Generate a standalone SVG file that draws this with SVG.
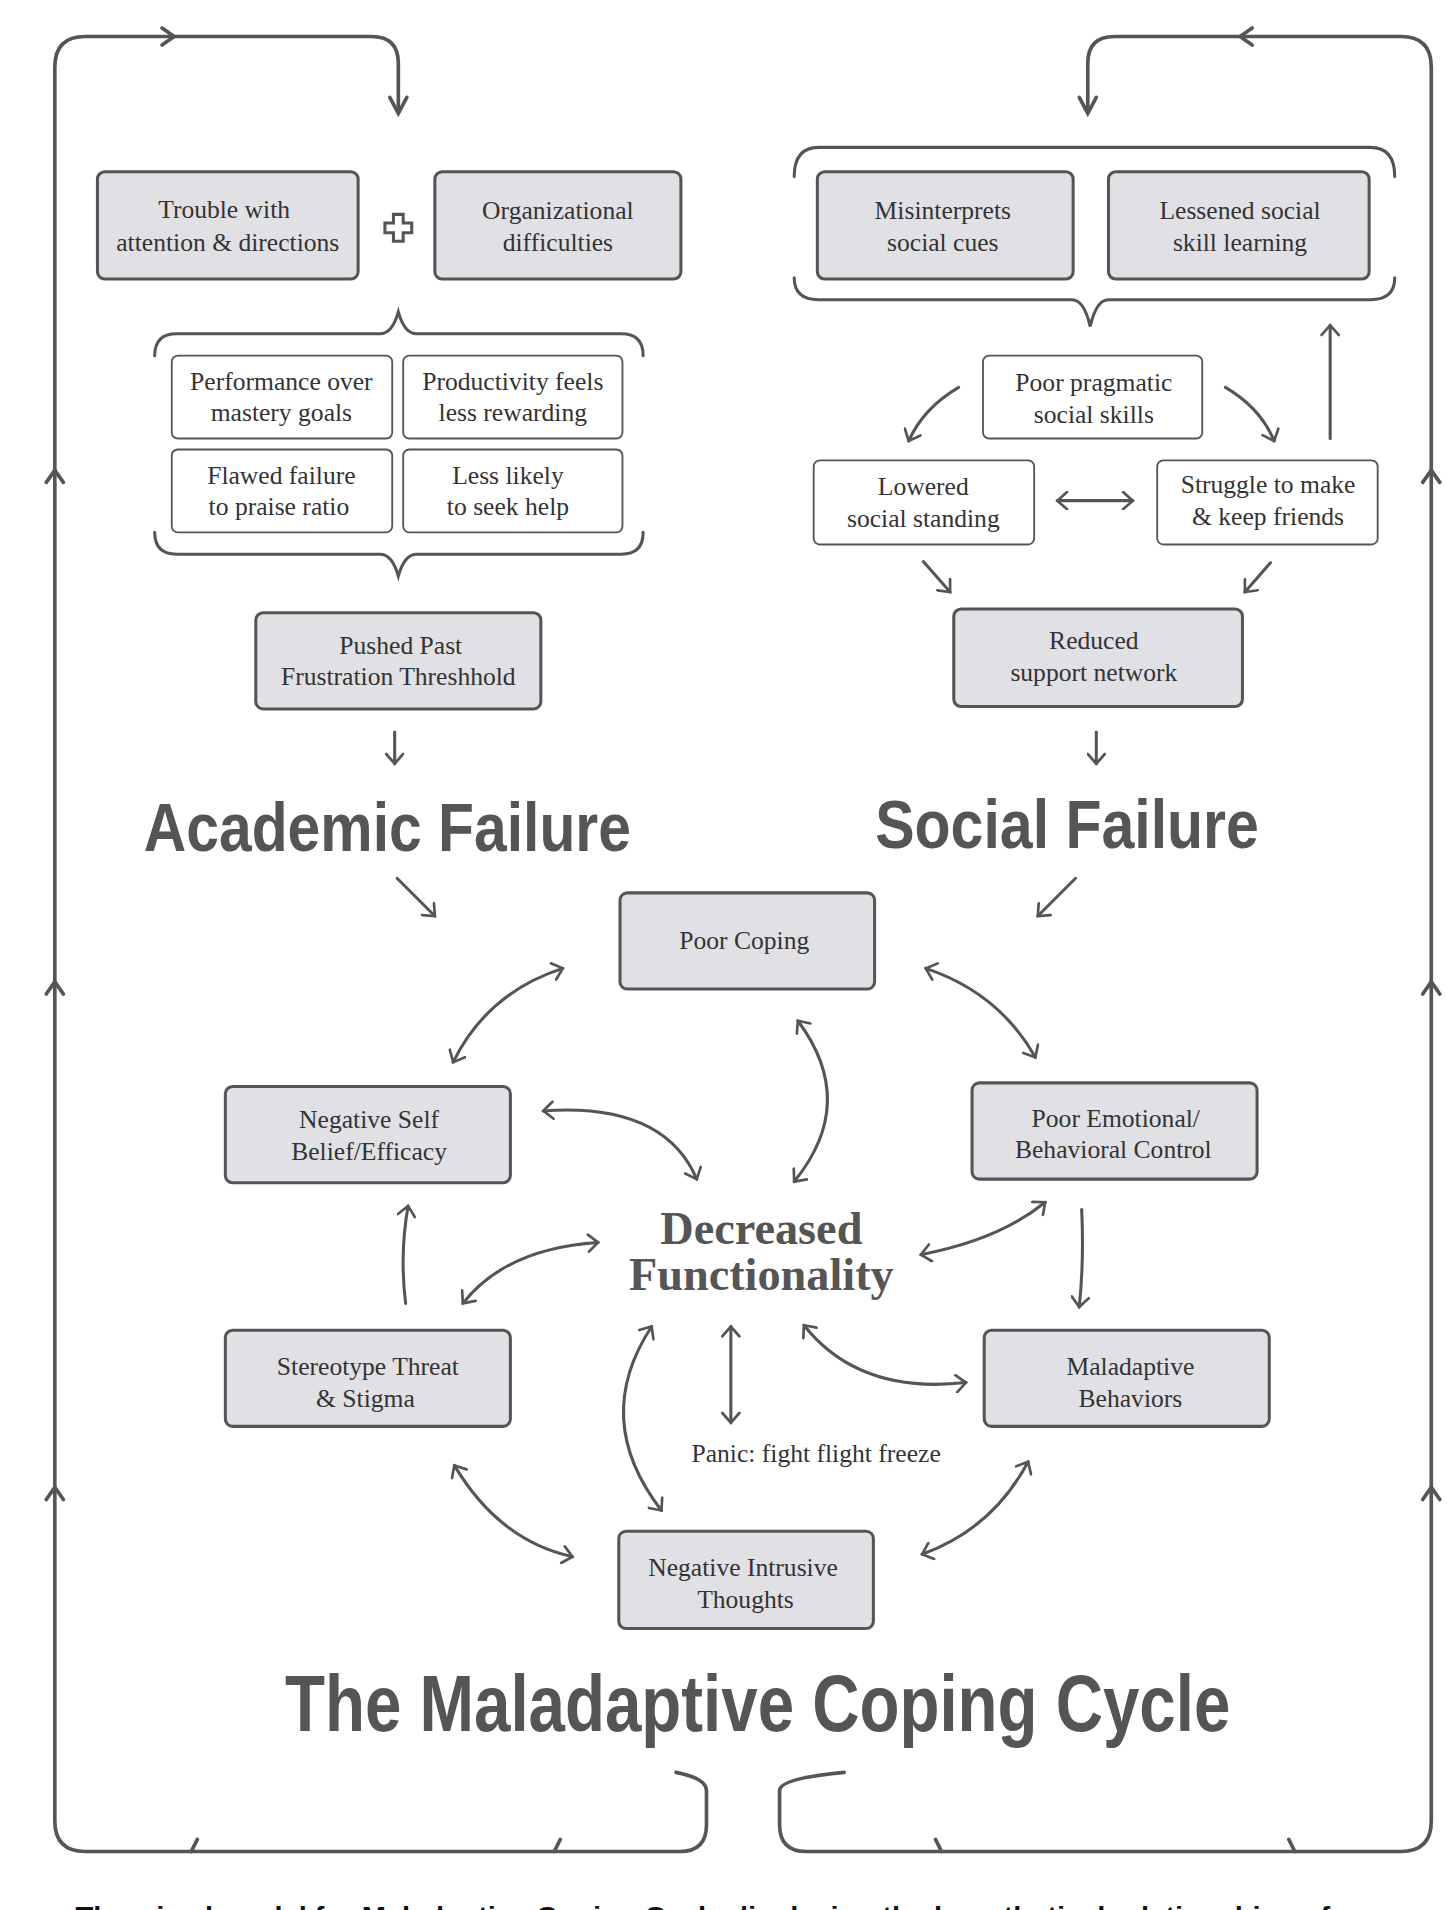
<svg xmlns="http://www.w3.org/2000/svg" width="1447" height="1910" viewBox="0 0 1447 1910">
<style>
.g{fill:#e1e0e5;stroke:#555;stroke-width:2.5}
.w{fill:#fff;stroke:#555;stroke-width:1.5}
.t{font-family:"Liberation Serif",serif;font-size:21px;fill:#333;text-anchor:middle}
.h{font-family:"Liberation Sans",sans-serif;font-weight:bold;fill:#555;text-anchor:middle}
.c path,.c line{fill:none;stroke:#555;stroke-width:2.5;stroke-linecap:round}
.f{fill:none;stroke:#555;stroke-width:3;stroke-linecap:round}
</style>
<defs>
<marker id="a" markerUnits="userSpaceOnUse" markerWidth="16" markerHeight="16" refX="11" refY="8" orient="auto-start-reverse" viewBox="0 0 16 16">
<path d="M3,1 L11,8 L3,15" fill="none" stroke="#555" stroke-width="2.2" stroke-linecap="round"/>
</marker>
</defs>
<rect width="1447" height="1910" fill="#fff"/>
<g transform="scale(1.2181,1.2181)">
<g id="frame">
<path class="f" d="M555,1455 Q580,1460 580,1470 L580,1498 Q580,1520 558,1520 L70,1520 Q45,1520 45,1495 L45,55 Q45,30 70,30 L305,30 Q327,30 327,52 L327,92"/>
<path class="f" d="M320,80 L327,93 L334,80"/>
<path class="f" d="M133,23 L143,30 L133,37"/>
<path class="f" d="M38,396 L45,386 L52,396 M38,816 L45,806 L52,816 M38,1231 L45,1221 L52,1231"/>
<path class="f" d="M157,1520 L162,1510 M455,1520 L460,1510"/>
<path class="f" d="M693,1455 Q640,1460 640,1470 L640,1498 Q640,1520 662,1520 L1150,1520 Q1175,1520 1175,1495 L1175,55 Q1175,30 1150,30 L915,30 Q893,30 893,52 L893,92"/>
<path class="f" d="M886,80 L893,93 L900,80"/>
<path class="f" d="M1028,23 L1018,30 L1028,37"/>
<path class="f" d="M1168,396 L1175,386 L1182,396 M1168,816 L1175,806 L1182,816 M1168,1231 L1175,1221 L1182,1231"/>
<path class="f" d="M773,1520 L768,1510 M1063,1520 L1058,1510"/>
</g>
<g id="braces" class="c">
<path d="M127,292 Q127,274 145,274 L312,274 Q322,274 327,256 Q332,274 342,274 L510,274 Q528,274 528,292"/>
<path d="M127,437 Q127,455 145,455 L312,455 Q322,455 327,473 Q332,455 342,455 L510,455 Q528,455 528,437"/>
<path d="M652,145 Q652,121 672,121 L1125,121 Q1145,121 1145,145"/>
<path d="M652,228 Q652,246 672,246 L880,246 Q890,246 895,268 Q900,246 910,246 L1125,246 Q1145,246 1145,228"/>
<path d="M323,176 h8 v7 h7 v8 h-7 v7 h-8 v-7 h-7 v-8 h7z" stroke-width="2.5"/>
</g>
<g id="n1"><rect class="g" x="80" y="141" width="214" height="88" rx="6"/><text class="t" x="184" y="179">Trouble with</text><text class="t" x="187" y="206">attention &amp; directions</text></g>
<g id="n2"><rect class="g" x="357" y="141" width="202" height="88" rx="6"/><text class="t" x="458" y="180">Organizational</text><text class="t" x="458" y="206">difficulties</text></g>
<g id="n3"><rect class="g" x="671" y="141" width="210" height="88" rx="6"/><text class="t" x="774" y="180">Misinterprets</text><text class="t" x="774" y="206">social cues</text></g>
<g id="n4"><rect class="g" x="910" y="141" width="214" height="88" rx="6"/><text class="t" x="1018" y="180">Lessened social</text><text class="t" x="1018" y="206">skill learning</text></g>
<g id="w1"><rect class="w" x="141" y="292" width="181" height="68" rx="5"/><text class="t" x="231" y="320">Performance over</text><text class="t" x="231" y="346">mastery goals</text></g>
<g id="w2"><rect class="w" x="331" y="292" width="180" height="68" rx="5"/><text class="t" x="421" y="320">Productivity feels</text><text class="t" x="421" y="346">less rewarding</text></g>
<g id="w3"><rect class="w" x="141" y="369" width="181" height="68" rx="5"/><text class="t" x="231" y="397">Flawed failure</text><text class="t" x="229" y="423">to praise ratio</text></g>
<g id="w4"><rect class="w" x="331" y="369" width="180" height="68" rx="5"/><text class="t" x="417" y="397">Less likely</text><text class="t" x="417" y="423">to seek help</text></g>
<g id="w5"><rect class="w" x="807" y="292" width="180" height="68" rx="5"/><text class="t" x="898" y="321">Poor pragmatic</text><text class="t" x="898" y="347">social skills</text></g>
<g id="w6"><rect class="w" x="668" y="378" width="181" height="69" rx="5"/><text class="t" x="758" y="406">Lowered</text><text class="t" x="758" y="433">social standing</text></g>
<g id="w7"><rect class="w" x="950" y="378" width="181" height="69" rx="5"/><text class="t" x="1041" y="405">Struggle to make</text><text class="t" x="1041" y="431">&amp; keep friends</text></g>
<g id="n5"><rect class="g" x="210" y="503" width="234" height="79" rx="6"/><text class="t" x="329" y="537">Pushed Past</text><text class="t" x="327" y="562">Frustration Threshhold</text></g>
<g id="n6"><rect class="g" x="783" y="500" width="237" height="80" rx="6"/><text class="t" x="898" y="533">Reduced</text><text class="t" x="898" y="559">support network</text></g>
<text class="h" x="318" y="699" font-size="56" textLength="400" lengthAdjust="spacingAndGlyphs">Academic Failure</text>
<text class="h" x="876" y="696" font-size="56" textLength="315" lengthAdjust="spacingAndGlyphs">Social Failure</text>
<g id="n7"><rect class="g" x="509" y="733" width="209" height="79" rx="6"/><text class="t" x="611" y="779">Poor Coping</text></g>
<g id="n8"><rect class="g" x="185" y="892" width="234" height="79" rx="6"/><text class="t" x="303" y="926">Negative Self</text><text class="t" x="303" y="952">Belief/Efficacy</text></g>
<g id="n9"><rect class="g" x="798" y="889" width="234" height="79" rx="6"/><text class="t" x="916" y="925">Poor Emotional/</text><text class="t" x="914" y="951">Behavioral Control</text></g>
<g id="n10"><rect class="g" x="185" y="1092" width="234" height="79" rx="6"/><text class="t" x="302" y="1129">Stereotype Threat</text><text class="t" x="300" y="1155">&amp; Stigma</text></g>
<g id="n11"><rect class="g" x="808" y="1092" width="234" height="79" rx="6"/><text class="t" x="928" y="1129">Maladaptive</text><text class="t" x="928" y="1155">Behaviors</text></g>
<g id="n12"><rect class="g" x="508" y="1257" width="209" height="80" rx="6"/><text class="t" x="610" y="1294">Negative Intrusive</text><text class="t" x="612" y="1320">Thoughts</text></g>
<g id="center"><text x="625" y="1021" font-family="Liberation Serif,serif" font-weight="bold" font-size="38" fill="#555" text-anchor="middle">Decreased</text><text x="625" y="1059" font-family="Liberation Serif,serif" font-weight="bold" font-size="38" fill="#555" text-anchor="middle">Functionality</text></g>
<text class="t" x="670" y="1200">Panic: fight flight freeze</text>
<g id="connectors" class="c">
<line x1="324" y1="601" x2="324" y2="627" marker-end="url(#a)"/>
<line x1="900" y1="601" x2="900" y2="627" marker-end="url(#a)"/>
<line x1="326" y1="721" x2="357" y2="752" marker-end="url(#a)"/>
<line x1="883" y1="721" x2="852" y2="752" marker-end="url(#a)"/>
<path d="M787,318 Q758,335 746,362" marker-end="url(#a)"/>
<path d="M1006,318 Q1035,335 1046,362" marker-end="url(#a)"/>
<line x1="868" y1="411" x2="930" y2="411" marker-start="url(#a)" marker-end="url(#a)" stroke-width="2"/>
<line x1="1092" y1="360" x2="1092" y2="267" marker-end="url(#a)" stroke-width="1.5"/>
<line x1="758" y1="461" x2="780" y2="486" marker-end="url(#a)"/>
<line x1="1043" y1="462" x2="1022" y2="486" marker-end="url(#a)"/>
<path d="M372,872 Q400,815 462,795" marker-start="url(#a)" marker-end="url(#a)"/>
<path d="M760,795 Q820,815 850,868" marker-start="url(#a)" marker-end="url(#a)"/>
<path d="M446,912 Q545,905 572,968" marker-start="url(#a)" marker-end="url(#a)"/>
<path d="M655,838 Q705,905 652,970" marker-start="url(#a)" marker-end="url(#a)"/>
<path d="M858,987 Q820,1018 756,1030" marker-start="url(#a)" marker-end="url(#a)"/>
<path d="M888,993 Q890,1035 886,1073" marker-end="url(#a)"/>
<path d="M491,1020 Q415,1025 380,1070" marker-start="url(#a)" marker-end="url(#a)"/>
<path d="M333,1070 Q328,1030 335,990" marker-end="url(#a)"/>
<path d="M660,1088 Q705,1145 793,1135" marker-start="url(#a)" marker-end="url(#a)"/>
<line x1="600" y1="1089" x2="600" y2="1168" marker-start="url(#a)" marker-end="url(#a)" stroke-width="1.5"/>
<path d="M535,1089 Q485,1165 543,1240" marker-start="url(#a)" marker-end="url(#a)"/>
<path d="M373,1203 Q410,1265 470,1278" marker-start="url(#a)" marker-end="url(#a)"/>
<path d="M844,1200 Q815,1255 757,1276" marker-start="url(#a)" marker-end="url(#a)"/>
</g>
<text class="h" x="622" y="1421" font-size="66" textLength="776" lengthAdjust="spacingAndGlyphs">The Maladaptive Coping Cycle</text>
<text x="62" y="1581" font-family="Liberation Sans,sans-serif" font-weight="bold" font-size="22" fill="#111" textLength="1030" lengthAdjust="spacingAndGlyphs">Theorized model for Maladaptive Coping Cycle displaying the hypothetical relationships of</text>
</g>
</svg>
